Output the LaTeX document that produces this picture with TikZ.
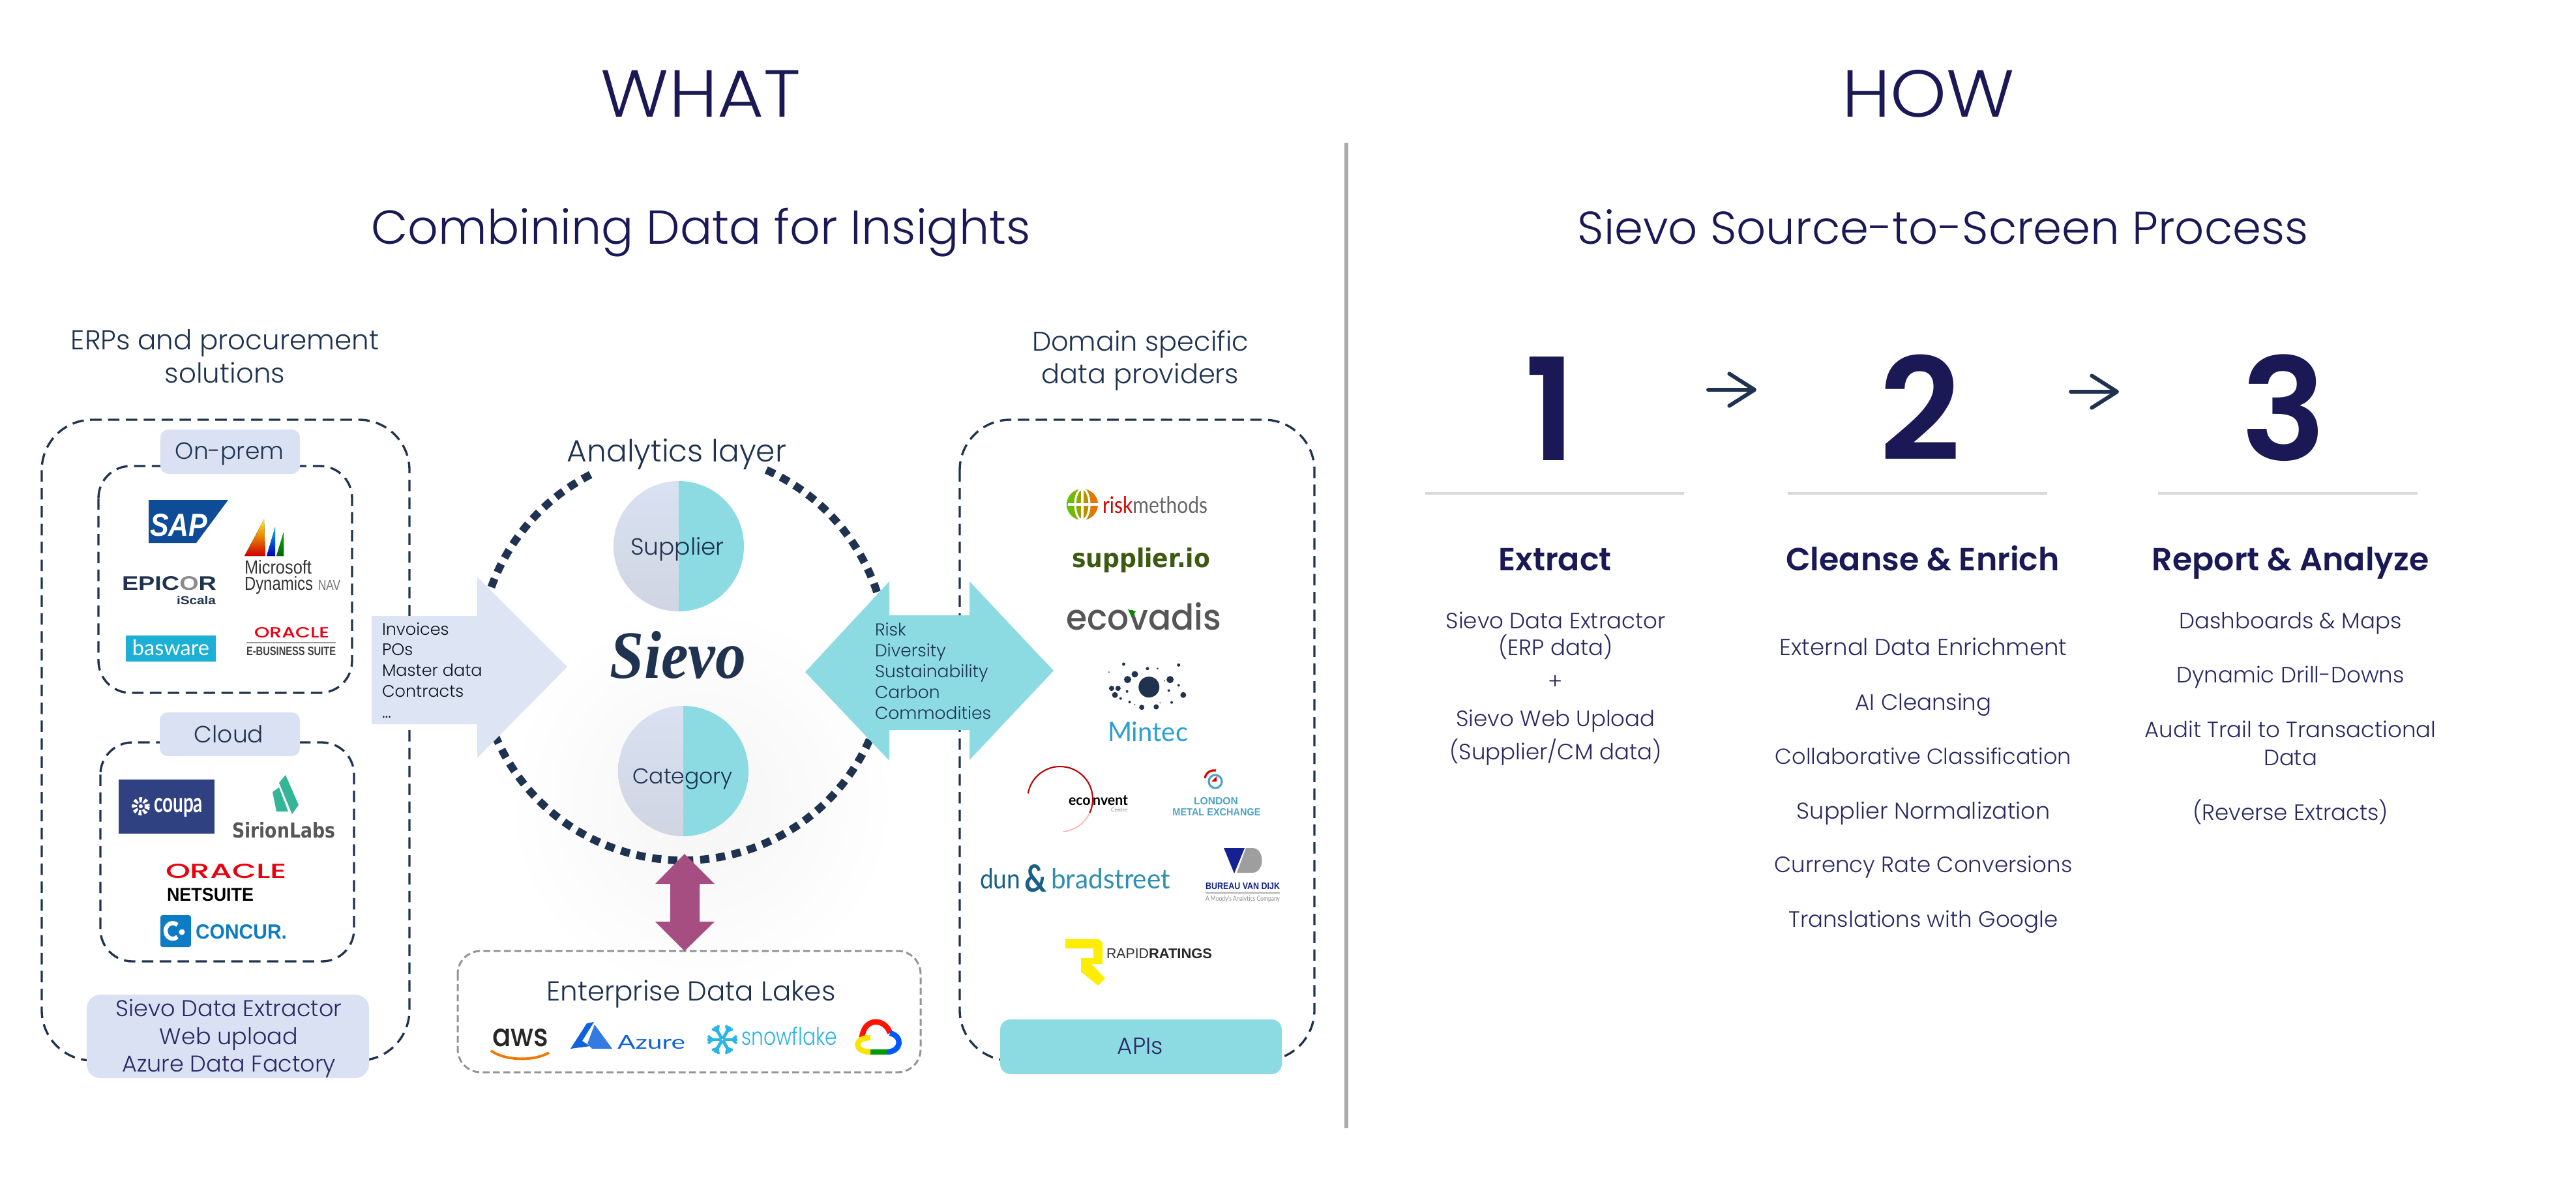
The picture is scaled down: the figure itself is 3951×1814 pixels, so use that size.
\documentclass[tikz,border=0pt]{standalone}
\usepackage{fontspec,graphicx}
\usetikzlibrary{arrows.meta}
\setmainfont{Poppins Light}
\newfontfamily\lt{Poppins Light}
\newfontfamily\lts{Poppins Light}[FakeStretch=1.07]
\newfontfamily\md{Poppins Medium}
\newfontfamily\sm{Poppins SemiBold}
\newfontfamily\la{Lato}
\newfontfamily\lb{Lato Bold}
\newfontfamily\ar{Liberation Sans}
\newfontfamily\arb{Liberation Sans Bold}
\newfontfamily\djb{DejaVu Sans Bold}
\newfontfamily\sr{Liberation Serif Bold Italic}
\newcommand\fs[2][1.2]{\fontsize{\fpeval{#2*0.2845}pt}{\fpeval{#1*#2*0.2845}pt}\selectfont}
\newcommand\fl[2]{\fontsize{\fpeval{#1*0.2845}pt}{\fpeval{#2*0.2845}pt}\selectfont}
\newcommand\rz[3]{\resizebox{\fpeval{#1*0.2845}pt}{\fpeval{#2*0.2845}pt}{#3}}
\definecolor{navy}{HTML}{1A1855}
\definecolor{bodyc}{HTML}{2A2964}
\definecolor{ink}{HTML}{1F3350}
\definecolor{pale}{HTML}{D9E1F2}
\definecolor{teal}{HTML}{8CDBE2}
\definecolor{plum}{HTML}{A64D82}
\definecolor{sapblue}{HTML}{0F4C97}
\definecolor{coupac}{HTML}{2F4180}
\definecolor{sirion}{HTML}{35B597}
\definecolor{concurc}{HTML}{0E7CC4}
\definecolor{basw}{HTML}{1DB0D6}
\definecolor{orared}{HTML}{E8000F}
\definecolor{supg}{HTML}{3B5A10}
\definecolor{ecog}{HTML}{565656}
\definecolor{mint}{HTML}{2A9FD6}
\definecolor{lme}{HTML}{4BA3C3}
\definecolor{dunc}{HTML}{1A5F86}
\definecolor{brad}{HTML}{2E8FB0}
\definecolor{bvdc}{HTML}{14218F}
\definecolor{snow}{HTML}{29B5E8}
\definecolor{azur}{HTML}{0F62DC}
\tikzset{
 tx/.style={inner sep=0pt,outer sep=0pt,anchor=base},
 txl/.style={inner sep=0pt,outer sep=0pt,anchor=base west},
 dashbox/.style={draw=ink,line width=0.95pt,dash pattern=on 5pt off 2.8pt},
 body/.style={tx,text=bodyc,font=\lt\fs{34}},
 mid/.style={tx,text=ink,font=\lt\fs{36}},
 lab/.style={fill=pale,rounded corners=3.5pt},
 stepnum/.style={tx,text=navy,font=\sm\fs{218}},
 stephead/.style={tx,text=navy,font=\sm\fs{49}},
 steprule/.style={draw=black!15,line width=1.1pt},
 steparrow/.style={draw=ink,line width=1.7pt,line cap=round,-{Straight Barb[length=11pt,width=14pt,round]}},
}
\begin{document}
\begin{tikzpicture}[x=0.01cm,y=-0.01cm]
\useasboundingbox (0,0) rectangle (3951,1814);
\fill[white] (0,0) rectangle (3951,1814);
% divider
\draw[line width=1.7pt,draw=black!33] (2065,219) -- (2065,1731);
% titles
\node[tx,text=navy,font=\lts\fs{102}] (what) at (1075,179) {WHAT};
\node[tx,text=navy,font=\lts\fs{102}] (how) at (2958,179) {HOW};
\node[tx,text=navy,font=\lt\fs{73}] (comb) at (1075,374) {Combining Data for Insights};
\node[tx,text=navy,font=\lt\fs{70.5}] (s2s) at (2980,374) {Sievo Source-to-Screen Process};
\node[tx,text=ink,font=\lt\fl{42}{50},align=center] (erps) at (345,587) {ERPs and procurement\\solutions};
\node[tx,text=ink,font=\lt\fl{41.5}{49},align=center] (dom) at (1749,588) {Domain specific\\data providers};
% halo
\shade[inner color=black!4,outer color=white] (1075,1230) circle (300);
% left group
\draw[dashbox,rounded corners=22pt] (64,644) rectangle (628,1627);
\draw[dashbox,rounded corners=14pt] (151,715) rectangle (540,1063);
\draw[dashbox,rounded corners=14pt] (154,1139) rectangle (543,1475);
\fill[lab] (246,659) rectangle (460,727);
\fill[lab] (245,1093) rectangle (460,1160);
\fill[lab,rounded corners=6pt] (133,1526) rectangle (566,1654);
\node[mid] (onprem) at (352,704) {On-prem};
\node[mid] (cloud) at (351,1139) {Cloud};
\node[tx,text=bodyc,font=\lt\fl{35}{42},align=center] (tools) at (351,1644) {Sievo Data Extractor\\Web upload\\Azure Data Factory};
% right group
\draw[dashbox,rounded corners=22pt] (1472,644) rectangle (2016,1627);
\fill[teal,rounded corners=4.5pt] (1534,1564) rectangle (1966,1648);
\node[mid,text=bodyc] (apis) at (1749,1617) {APIs};
% lake box
\draw[draw=black!42,line width=0.85pt,dash pattern=on 3pt off 1.5pt,rounded corners=10pt] (702,1459) rectangle (1412,1645);
\node[tx,text=ink,font=\lt\fs{42}] (lake) at (1060,1535) {Enterprise Data Lakes};
% big dotted circle
\draw[draw=ink,line width=3.4pt,dash pattern=on 4pt off 3pt] (1048,1007) ++(-66:313) arc[start angle=-66,end angle=243,radius=313];
\node[tx,text=ink,font=\lt\fs{47}] (analytics) at (1038,708) {Analytics layer};
% half discs
\shade[top color=pale,bottom color=pale!90!black!80] (1041,738) arc[start angle=-90,end angle=-270,radius=100] -- cycle;
\fill[teal] (1041,738) arc[start angle=-90,end angle=90,radius=100] -- cycle;
\shade[top color=pale,bottom color=pale!90!black!80] (1048,1083) arc[start angle=-90,end angle=-270,radius=100] -- cycle;
\fill[teal] (1048,1083) arc[start angle=-90,end angle=90,radius=100] -- cycle;
\node[mid] (supplier) at (1039,851) {Supplier};
\node[mid,font=\lt\fs{33}] (category) at (1047,1202) {Category};
\node[tx,text=ink,font=\sr] (sievo) at (1040,1040) {\rz{208}{72}{Sievo}};
% arrows
\fill[pale!90!white] (570,945) -- (732,945) -- (732,885) -- (870,1023) -- (732,1163) -- (732,1111) -- (570,1111) -- cycle;
\fill[teal] (1235,1031) -- (1364,892) -- (1364,944) -- (1487,944) -- (1487,892) -- (1616,1029) -- (1487,1166) -- (1487,1120) -- (1364,1120) -- (1364,1167) -- cycle;
\fill[plum] (1050,1310) -- (1096,1356) -- (1073,1356) -- (1073,1414) -- (1096,1414) -- (1050,1459) -- (1005,1414) -- (1028,1414) -- (1028,1356) -- (1005,1356) -- cycle;
\node[txl,text=black!65!ink,font=\lt\fl{25.5}{31.7},align=left] (invoices) at (586,1101) {Invoices\\POs\\Master data\\Contracts\\...};
\node[txl,text=ink,font=\lt\fl{26.5}{31.8},align=left] (risk) at (1342,1103) {Risk\\Diversity\\Sustainability\\Carbon\\Commodities};
% steps
\node[stepnum] (n1) at (2378,706) {1};
\node[stepnum] (n2) at (2945,706) {2};
\node[stepnum] (n3) at (3503,706) {3};
\draw[steprule] (2186,757) -- (2583,757);
\draw[steprule] (2742,757) -- (3140,757);
\draw[steprule] (3310,757) -- (3708,757);
\coordinate (a1s) at (2620,598); \coordinate (a1e) at (2694,598);
\coordinate (a2s) at (3176,601); \coordinate (a2e) at (3250,601);
\draw[steparrow] (a1s) -- (a1e);
\draw[steparrow] (a2s) -- (a2e);
\node[stephead] (h1) at (2385,875) {Extract};
\node[stephead] (h2) at (2949,875) {Cleanse \& Enrich};
\node[stephead] (h3) at (3513,875) {Report \& Analyze};
\node[body,font=\lt\fl{34}{41},align=center] (e1) at (2386,1005) {Sievo Data Extractor\\(ERP data)};
\node[body] (e2) at (2386,1057) {+};
\node[body] (e3) at (2386,1114) {Sievo Web Upload};
\node[body] (e4) at (2386,1165) {(Supplier/CM data)};
\node[body,font=\lt\fs{35.5}] (c1) at (2950,1005) {External Data Enrichment};
\node[body] (c2) at (2950,1089) {AI Cleansing};
\node[body,font=\lt\fs{33.5}] (c3) at (2950,1172) {Collaborative Classification};
\node[body,font=\lt\fs{35}] (c4) at (2950,1256) {Supplier Normalization};
\node[body] (c5) at (2950,1338) {Currency Rate Conversions};
\node[body] (c6) at (2950,1422) {Translations with Google};
\node[body] (r1) at (3513,964) {Dashboards \& Maps};
\node[body] (r2) at (3513,1047) {Dynamic Drill-Downs};
\node[body,font=\lt\fl{34}{43},align=center] (r3) at (3513,1174) {Audit Trail to Transactional\\Data};
\node[body] (r4) at (3513,1258) {(Reverse Extracts)};
% --- logos left
\fill[sapblue] (228,767) -- (350,767) -- (301,833) -- (228,833) -- cycle;
\node[txl,text=white,font=\arb\itshape] (sap) at (230,822) {\rz{88}{34}{SAP}};
\fill[shade,top color=yellow!90!orange,bottom color=red!80!black] (375,853) -- (405,797) -- (407,853) -- cycle;
\fill[shade,top color=cyan!70!blue,bottom color=blue!70!black] (409,853) -- (422,809) -- (422,853) -- cycle;
\fill[shade,top color=green!70!black,bottom color=green!40!black] (424,853) -- (435,817) -- (435,853) -- cycle;
\node[txl,text=black!80,font=\ar] (ms) at (375,880) {\rz{103}{21}{Microsoft}};
\node[txl,text=black!80,font=\ar] (dyn) at (375,905) {\rz{105}{21}{Dynamics}};
\node[txl,text=black!55,font=\ar] (nav) at (488,905) {\rz{34}{15}{NAV}};
\node[txl,font=\arb] (epicor) at (187,905) {\rz{145}{21}{\textcolor{ink}{EPIC}\textcolor{black!45}{O}\textcolor{ink}{R}}};
\node[txl,text=ink,font=\arb] (iscala) at (271,927) {\rz{60}{13}{iScala}};
\fill[basw] (193,975) rectangle (331,1015);
\node[tx,text=white,font=\la] (bas) at (262,1005) {\rz{118}{24}{basware}};
\node[txl,text=orared,font=\md] (ora1) at (390,978) {\rz{115}{16}{ORACLE}};
\draw[black!40,line width=0.5pt] (378,986) -- (515,986);
\node[txl,text=black!75,font=\arb] (ebs) at (378,1005) {\rz{137}{13}{E-BUSINESS SUITE}};
\fill[coupac] (182,1196) rectangle (329,1279);
\draw[white,line width=2.2pt,dash pattern=on 1.2pt off 0.9pt] (216,1237) circle (10);
\fill[white] (216,1237) circle (3);
\node[txl,text=white,font=\lb] (coupa) at (236,1246) {\rz{75}{22}{coupa}};
\fill[sirion] (438,1189) -- (458,1235) -- (448,1249) -- (428,1201) -- cycle;
\fill[sirion] (418,1215) -- (428,1208) -- (442,1245) -- (424,1245) -- cycle;
\node[txl,text=ecog,font=\djb] (sirionl) at (356,1285) {\rz{158}{24}{SirionLabs}};
\node[txl,text=orared,font=\md] (ora2) at (254,1347) {\rz{186}{22}{ORACLE}};
\node[txl,text=black,font=\arb] (net) at (256,1382) {\rz{133}{20}{NETSUITE}};
\fill[concurc,rounded corners=1pt] (246,1404) rectangle (293,1453);
\draw[white,line width=1.8pt] (272,1419) arc[start angle=-50,end angle=-310,x radius=11,y radius=12];
\fill[white] (279,1430) circle (4.5);
\node[txl,text=concurc,font=\arb] (concur) at (300,1440) {\rz{140}{22}{CONCUR.}};
% --- logos right
\shade[left color=green!60!yellow!80!black,right color=orange!80!red] (1660,774) circle (24);
\draw[white,line width=0.9pt] (1660,750) -- (1660,798) (1638,774) -- (1684,774);
\draw[white,line width=0.9pt] (1660,774) ellipse (11 and 24);
\node[txl,font=\la] (rm) at (1691,787) {\rz{161}{26}{\textcolor{red!85!black}{risk}\textcolor{black!60}{methods}}};
\node[txl,text=supg,font=\djb] (sup) at (1644,870) {\rz{212}{30}{supplier.io}};
\node[txl,text=ecog,font=\md] (eco) at (1635,966) {\rz{238}{42}{ecovadis}};
\fill[green!55!black] (1730,935) -- (1742,938) -- (1736,947) -- cycle;
\foreach \a/\b/\r in {815/642/16,717/590/2.5,760/613/5,732/625/5.5,809/600/2.5,848/600/1.5,930/592/2.5,897/625/5.5,670/645/4,695/645/4,683/660/4.5,660/608/1,730/652/2,705/668/2,740/676/2,787/688/4,843/687/4,903/677/2,948/660/4.5,930/638/2,892/650/2,760/682/1,858/678/1,875/628/1}
  \fill[ink] ({1440+\a/2.529},{620+\b/1.479}) circle (\r);
\node[txl,text=mint,font=\la] (mintec) at (1699,1137) {\rz{123}{30}{Mintec}};
\draw[red!75!black,line width=0.6pt] (1626,1226) ++(-170:50) arc[start angle=-170,end angle=25,radius=50];
\draw[red!30,line width=0.5pt] (1626,1226) ++(25:50) arc[start angle=25,end angle=85,radius=50];
\node[txl,font=\lb] (eco2) at (1639,1235) {\rz{91}{15}{eco\,nvent}};
\node[txl,text=black!50,font=\la] (centre) at (1704,1245) {\rz{25}{6}{Centre}};
\draw[lme,line width=0.9pt] (1864,1199) circle (10);
\draw[red!85!black,line width=0.9pt] (1848,1194) .. controls (1850,1184) and (1858,1181) .. (1865,1182);
\fill[red!85!black] (1858,1199) -- (1866,1191) -- (1866,1199) -- cycle;
\node[tx,text=lme,font=\arb] (lon) at (1865,1234) {\rz{68}{11}{LONDON}};
\node[tx,text=lme,font=\arb] (metal) at (1866,1251) {\rz{135}{11}{METAL EXCHANGE}};
\node[txl,text=dunc,font=\la] (dun) at (1503,1363) {\rz{62}{31}{dun}};
\node[txl,text=dunc,font=\lb] (amp) at (1571,1368) {\rz{34}{42}{\&}};
\node[txl,text=brad,font=\la] (bradn) at (1612,1363) {\rz{183}{31}{bradstreet}};
\fill[black!38] (1911,1301) -- (1922,1301) .. controls (1940,1303) and (1940,1337) .. (1922,1339) -- (1897,1339) -- cycle;
\fill[bvdc] (1877,1301) -- (1909,1301) -- (1893,1340) -- cycle;
\node[txl,text=bvdc,font=\arb] (bvd) at (1849,1364) {\rz{114}{10}{BUREAU VAN DIJK}};
\draw[black!30,line width=0.4pt] (1849,1370) -- (1963,1370);
\node[txl,text=black!45,font=\la] (moody) at (1849,1382) {\rz{114}{8}{A Moody's Analytics Company}};
\fill[yellow!95!orange] (1634,1441) -- (1686,1441) -- (1691,1446) -- (1691,1479) -- (1674,1479) -- (1695,1501) -- (1684,1512) -- (1658,1491) -- (1658,1470) -- (1677,1470) -- (1677,1455) -- (1634,1455) -- cycle;
\node[txl,text=black!80,font=\ar] (rapid) at (1697,1470) {\rz{65}{15}{RAPID}};
\node[txl,text=black!85,font=\arb] (ratings) at (1762,1470) {\rz{97}{15}{RATINGS}};
% --- lake logos
\node[txl,text=black!85,font=\md] (aws) at (755,1605) {\rz{86}{27}{aws}};
\draw[orange!95!black,line width=1.1pt] (753,1612) .. controls (775,1628) and (820,1628) .. (842,1615);
\fill[azur] (875,1609) -- (900,1570) -- (911,1568) -- (893,1597) -- (905,1605) -- cycle;
\fill[azur!85!white] (912,1572) -- (939,1609) -- (908,1609) -- (901,1601) -- cycle;
\node[txl,text=azur,font=\la] (azure) at (947,1609) {\rz{104}{21}{Azure}};
\foreach \ang in {0,60,120} {
  \draw[snow,line width=1.4pt] (1108,1595) ++(\ang:23) -- ++(\ang+180:46);
  \foreach \s in {0,180} {
    \draw[snow,line width=1.1pt] (1108,1595) ++(\ang+\s:15) -- ++(\ang+\s+40:9);
    \draw[snow,line width=1.1pt] (1108,1595) ++(\ang+\s:15) -- ++(\ang+\s-40:9);
  }
}
\fill[white] (1108,1595) circle (4);
\draw[snow,line width=0.8pt] (1108,1595) circle (3);
\node[txl,text=snow,font=\lt] (snowt) at (1137,1603) {\rz{147}{28}{snowflake}};
\draw[red!85!orange,line width=2.4pt] (1322,1592) .. controls (1325,1560) and (1358,1562) .. (1365,1585);
\draw[blue!65!cyan,line width=2.4pt] (1365,1585) .. controls (1386,1590) and (1382,1614) .. (1360,1614);
\draw[green!60!black,line width=2.4pt] (1360,1614) -- (1335,1614);
\draw[yellow!85!orange,line width=2.4pt] (1335,1614) .. controls (1310,1614) and (1308,1592) .. (1335,1592);
\end{tikzpicture}
\end{document}
